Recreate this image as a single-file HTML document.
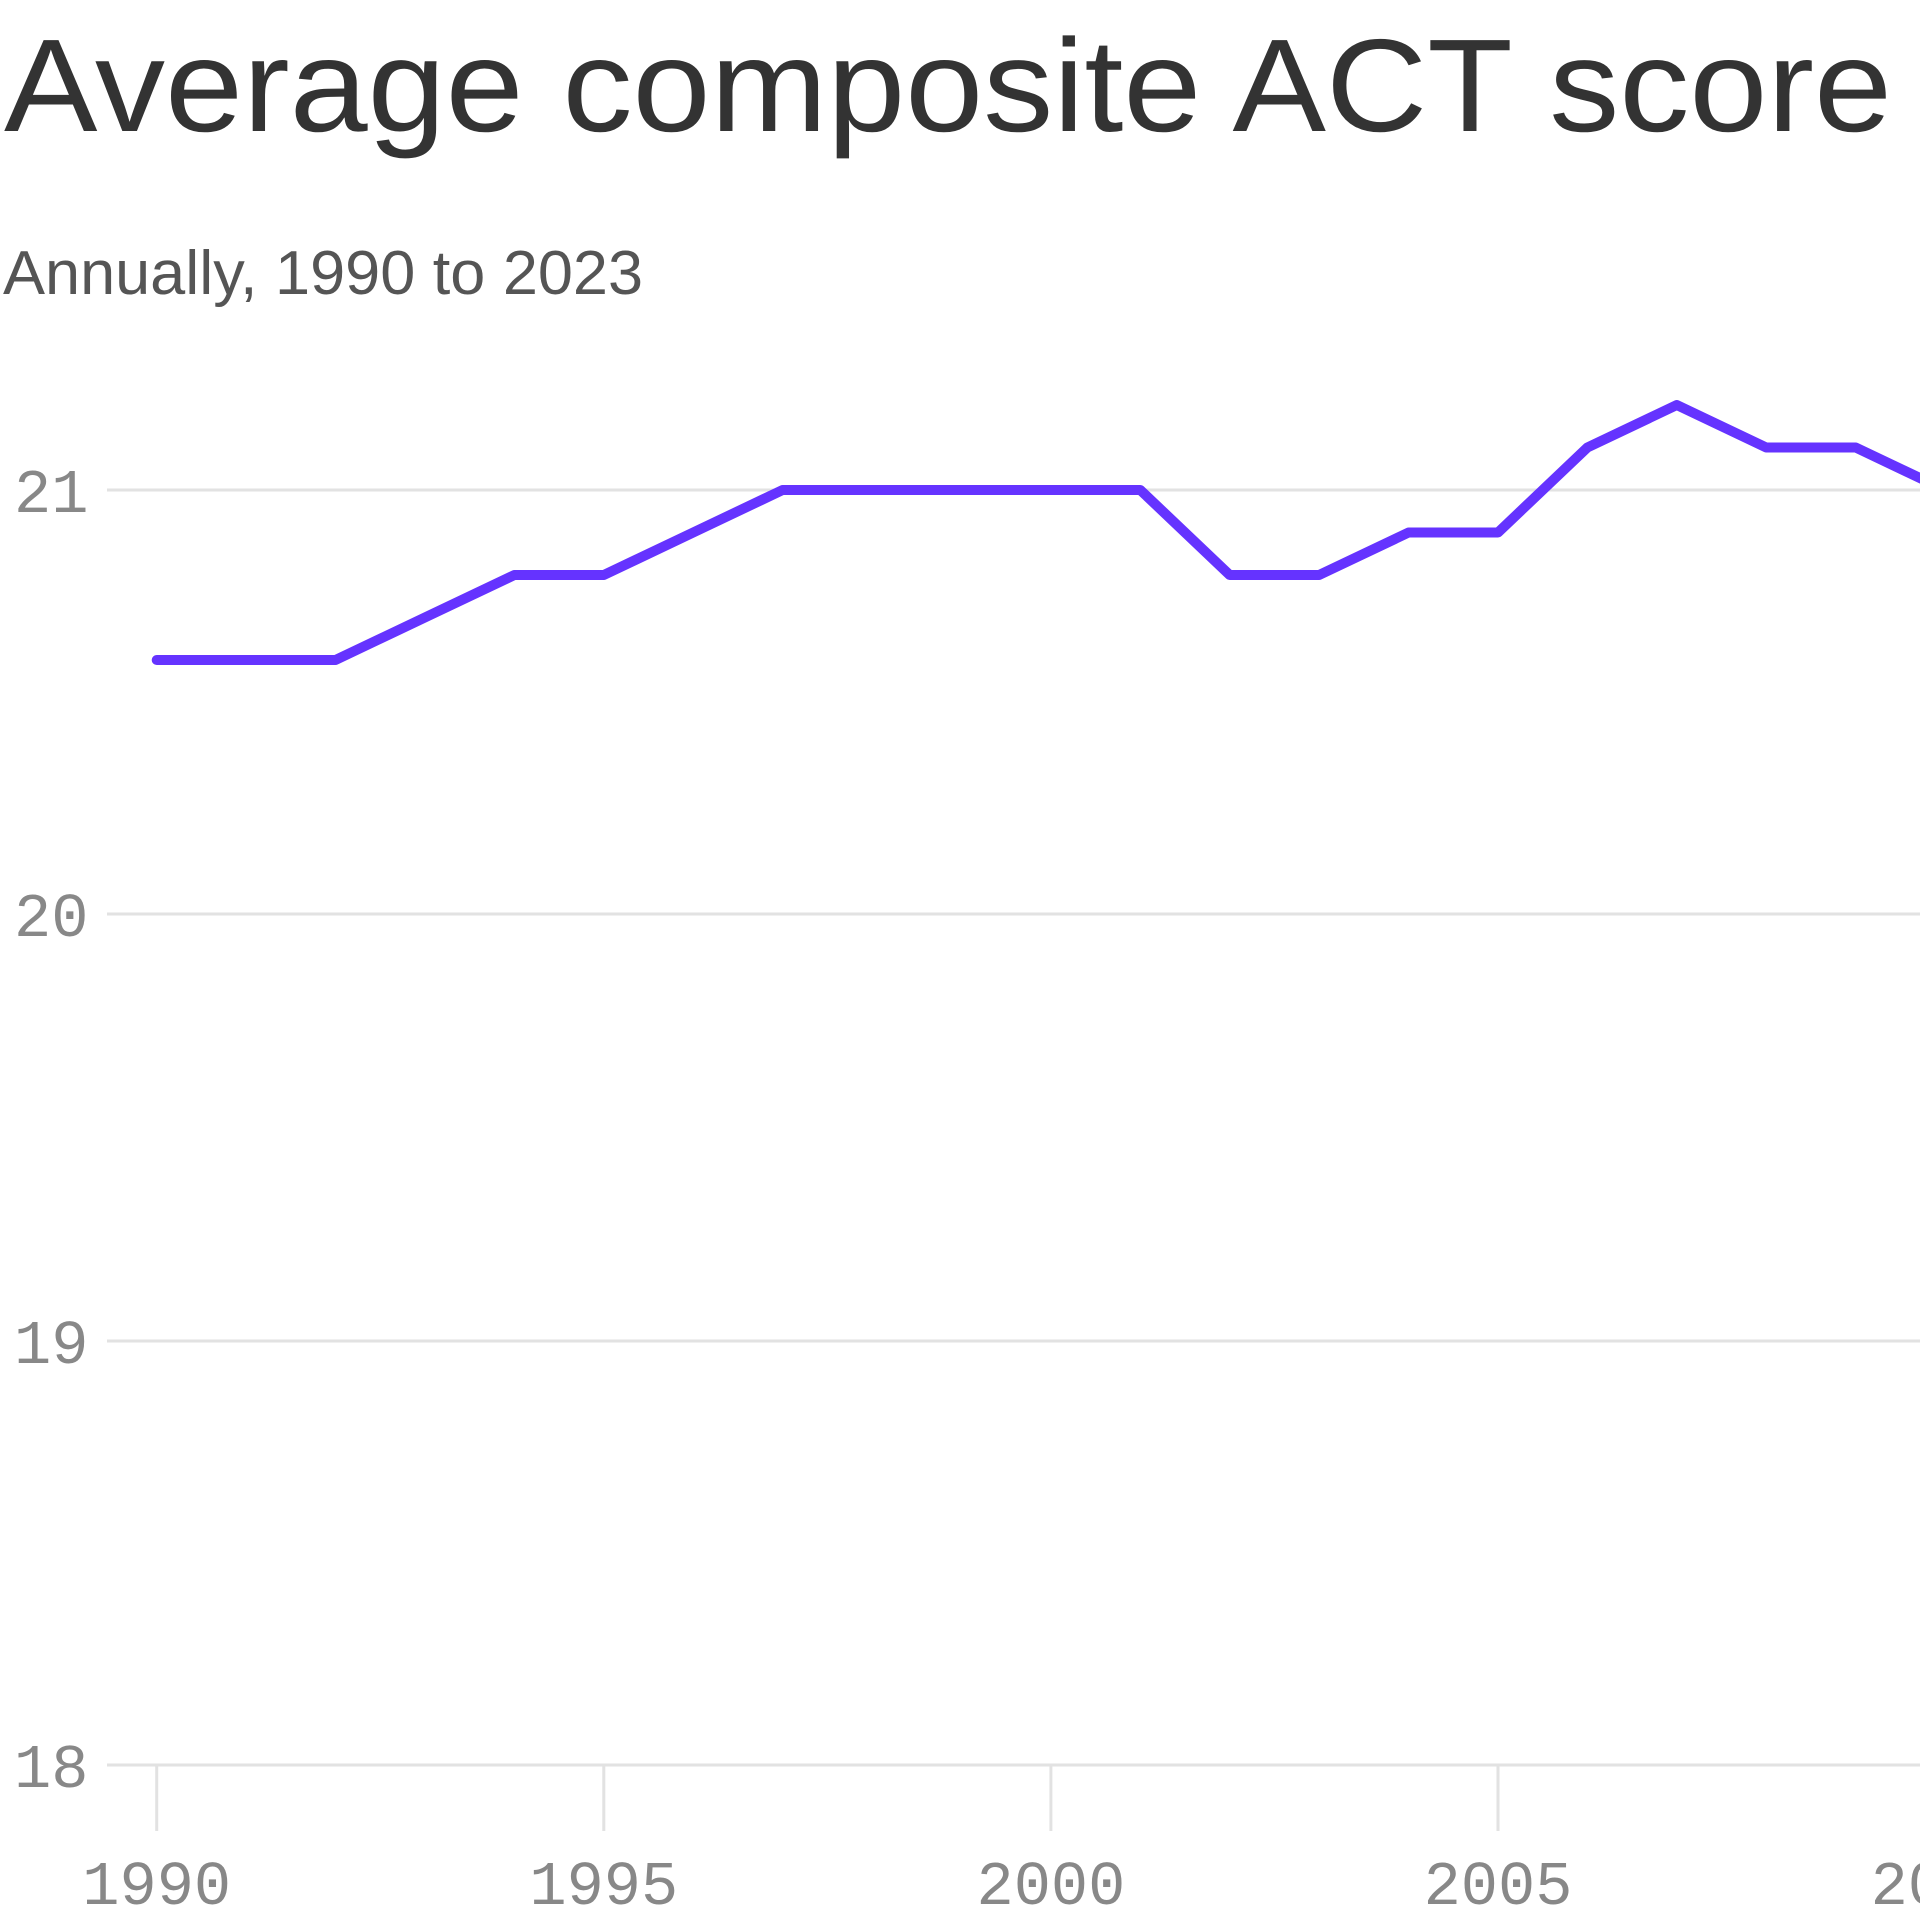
<!DOCTYPE html>
<html><head><meta charset="utf-8"><style>
html,body{margin:0;padding:0;background:#fff;width:1920px;height:1920px;overflow:hidden}
</style></head><body>
<svg width="1920" height="1920" viewBox="0 0 1920 1920" xmlns="http://www.w3.org/2000/svg">
<text x="4" y="131" font-family="Liberation Sans, sans-serif" font-size="132" fill="#333" textLength="1888" lengthAdjust="spacingAndGlyphs">Average composite ACT score</text>
<text x="3" y="294" font-family="Liberation Sans, sans-serif" font-size="62" fill="#555" textLength="640" lengthAdjust="spacingAndGlyphs">Annually, 1990 to 2023</text>
<g stroke="#e2e2e2" stroke-width="3">
<line x1="107" y1="490" x2="1920" y2="490"/>
<line x1="107" y1="914" x2="1920" y2="914"/>
<line x1="107" y1="1341" x2="1920" y2="1341"/>
<line x1="107" y1="1765" x2="1920" y2="1765"/>
<line x1="156.7" y1="1765" x2="156.7" y2="1831"/>
<line x1="603.8" y1="1765" x2="603.8" y2="1831"/>
<line x1="1050.9" y1="1765" x2="1050.9" y2="1831"/>
<line x1="1498" y1="1765" x2="1498" y2="1831"/>
</g>
<g font-family="Liberation Mono, DejaVu Sans Mono, monospace" font-size="62" fill="#888">
<text x="14" y="512">21</text>
<text x="14" y="936">20</text>
<text x="14" y="1363">19</text>
<text x="14" y="1787">18</text>
<g text-anchor="middle">
<text x="156.7" y="1904">1990</text>
<text x="603.8" y="1904">1995</text>
<text x="1050.9" y="1904">2000</text>
<text x="1498" y="1904">2005</text>
<text x="1945" y="1904">2010</text>
</g>
</g>
<polyline fill="none" stroke="#6533ff" stroke-width="10" stroke-linecap="round" stroke-linejoin="round"
points="156.7,660 246.1,660 335.5,660 424.9,617.5 514.4,575 603.8,575 693.2,532.5 782.6,490 872,490 961.5,490 1050.9,490 1140.3,490 1229.7,575 1319.1,575 1408.6,532.5 1498,532.5 1587.4,447.5 1676.8,405 1766.2,447.5 1855.7,447.5 1945.1,490"/>
</svg>
</body></html>
